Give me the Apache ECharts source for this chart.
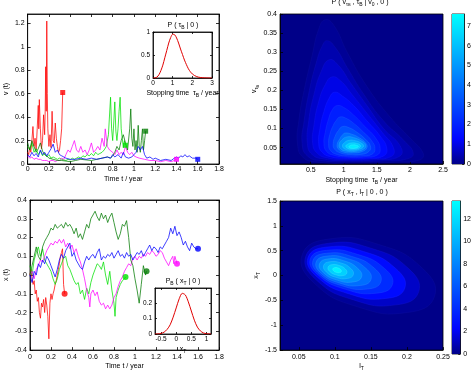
<!DOCTYPE html>
<html><head><meta charset="utf-8">
<script src="https://cdn.jsdelivr.net/npm/echarts@6/dist/echarts.min.js"></script>
<style>html,body{margin:0;padding:0;background:#fff}#c{width:474px;height:372px}</style>
</head><body><div id="c"></div>
<script>
// ---------- v(t) paths (top-left) ----------
const vRed = [[0,0.1],[0.01,0.08],[0.02,0.14],[0.03,0.1],[0.04,0.2],[0.05,0.32],[0.06,0.15],[0.07,0.22],[0.08,0.12],[0.09,0.3],[0.1,0.5],[0.105,0.3],[0.11,0.55],[0.12,0.3],[0.13,0.13],[0.14,0.2],[0.15,0.42],[0.16,0.25],[0.165,0.45],[0.17,0.83],[0.175,0.45],[0.18,1.22],[0.185,0.6],[0.19,0.3],[0.2,0.15],[0.21,0.25],[0.22,0.14],[0.23,0.45],[0.24,0.2],[0.25,0.18],[0.26,0.35],[0.27,0.22],[0.28,0.15],[0.29,0.1],[0.3,0.12],[0.31,0.2],[0.32,0.3],[0.33,0.61]];
const vGreen = [[0,0.15],[0.02,0.12],[0.04,0.18],[0.06,0.1],[0.08,0.13],[0.1,0.08],[0.12,0.11],[0.14,0.07],[0.16,0.09],[0.18,0.06],[0.2,0.08],[0.22,0.05],[0.24,0.06],[0.26,0.05],[0.28,0.04],[0.3,0.05],[0.32,0.04],[0.34,0.035],[0.36,0.03],[0.38,0.04],[0.4,0.035],[0.42,0.05],[0.44,0.04],[0.46,0.05],[0.48,0.06],[0.5,0.05],[0.52,0.07],[0.54,0.06],[0.56,0.08],[0.58,0.07],[0.6,0.09],[0.62,0.07],[0.64,0.1],[0.66,0.08],[0.68,0.09],[0.7,0.1],[0.72,0.12],[0.74,0.15],[0.76,0.25],[0.78,0.57],[0.79,0.3],[0.8,0.2],[0.81,0.35],[0.82,0.53],[0.83,0.28],[0.84,0.2],[0.85,0.3],[0.86,0.45],[0.87,0.57],[0.88,0.3],[0.89,0.22],[0.9,0.14],[0.91,0.2],[0.92,0.16]];
const vMagenta = [[0,0.07],[0.02,0.05],[0.04,0.06],[0.06,0.04],[0.08,0.05],[0.1,0.04],[0.12,0.04],[0.14,0.03],[0.16,0.03],[0.18,0.03],[0.2,0.02],[0.22,0.03],[0.24,0.03],[0.26,0.02],[0.28,0.03],[0.3,0.03],[0.32,0.05],[0.34,0.04],[0.36,0.08],[0.38,0.12],[0.4,0.1],[0.42,0.15],[0.44,0.2],[0.46,0.12],[0.48,0.1],[0.5,0.15],[0.52,0.1],[0.54,0.12],[0.56,0.08],[0.58,0.12],[0.6,0.18],[0.62,0.1],[0.64,0.12],[0.66,0.15],[0.68,0.12],[0.7,0.22],[0.72,0.15],[0.73,0.3],[0.75,0.15],[0.77,0.12],[0.8,0.1],[0.82,0.08],[0.84,0.12],[0.86,0.08],[0.88,0.1],[0.9,0.08],[0.92,0.15],[0.94,0.1],[0.96,0.08],[0.98,0.1],[1.0,0.07],[1.02,0.06],[1.05,0.05],[1.1,0.04],[1.15,0.03],[1.2,0.03],[1.25,0.02],[1.3,0.03],[1.35,0.02],[1.38,0.03],[1.4,0.04]];
const vDarkGreen = [[0,0.18],[0.02,0.12],[0.04,0.2],[0.06,0.15],[0.08,0.1],[0.1,0.13],[0.12,0.18],[0.14,0.11],[0.16,0.08],[0.18,0.07],[0.2,0.05],[0.24,0.04],[0.28,0.03],[0.32,0.03],[0.36,0.025],[0.4,0.02],[0.45,0.03],[0.5,0.04],[0.55,0.035],[0.6,0.03],[0.65,0.04],[0.7,0.05],[0.75,0.06],[0.78,0.05],[0.8,0.07],[0.82,0.1],[0.84,0.15],[0.86,0.12],[0.88,0.2],[0.9,0.25],[0.92,0.18],[0.94,0.12],[0.96,0.3],[0.97,0.47],[0.98,0.22],[0.99,0.15],[1.0,0.3],[1.01,0.12],[1.02,0.2],[1.03,0.1],[1.04,0.33],[1.05,0.15],[1.06,0.1],[1.07,0.2],[1.08,0.3],[1.09,0.12],[1.1,0.2],[1.11,0.28]];
const vBlue = [[0,0.08],[0.02,0.06],[0.04,0.1],[0.06,0.07],[0.08,0.09],[0.1,0.06],[0.12,0.12],[0.14,0.08],[0.16,0.1],[0.18,0.07],[0.2,0.1],[0.22,0.13],[0.24,0.17],[0.26,0.1],[0.28,0.12],[0.3,0.08],[0.32,0.07],[0.34,0.06],[0.36,0.05],[0.4,0.04],[0.45,0.04],[0.5,0.05],[0.55,0.04],[0.6,0.05],[0.65,0.04],[0.7,0.05],[0.75,0.06],[0.78,0.05],[0.8,0.08],[0.82,0.06],[0.85,0.08],[0.88,0.05],[0.9,0.1],[0.92,0.06],[0.95,0.05],[0.98,0.06],[1.0,0.08],[1.02,0.1],[1.04,0.15],[1.06,0.12],[1.08,0.15],[1.1,0.08],[1.12,0.05],[1.15,0.06],[1.18,0.04],[1.2,0.05],[1.25,0.03],[1.3,0.04],[1.35,0.03],[1.38,0.05],[1.4,0.06],[1.42,0.05],[1.44,0.07],[1.46,0.06],[1.48,0.08],[1.5,0.06],[1.52,0.07],[1.55,0.05],[1.58,0.05],[1.6,0.04]];

// ---------- x(t) paths (bottom-left) ----------
const xRed = [[0,0],[0.01,0.03],[0.02,-0.02],[0.03,-0.05],[0.04,-0.03],[0.05,-0.1],[0.06,-0.08],[0.07,-0.14],[0.08,-0.12],[0.09,-0.2],[0.1,-0.23],[0.11,-0.15],[0.12,-0.17],[0.13,-0.13],[0.14,-0.2],[0.15,-0.12],[0.16,-0.16],[0.17,-0.22],[0.18,-0.34],[0.19,-0.15],[0.2,-0.1],[0.21,-0.13],[0.22,-0.1],[0.23,-0.08],[0.24,-0.05],[0.25,-0.03],[0.26,0],[0.27,0.03],[0.28,0.06],[0.29,0.1],[0.3,0.12],[0.31,0.14],[0.32,-0.05],[0.33,-0.1]];
const xGreen = [[0,0.05],[0.02,0],[0.04,0.08],[0.06,0.12],[0.08,0.15],[0.1,0.1],[0.12,0.14],[0.14,0.08],[0.16,0.06],[0.18,0.04],[0.2,0.02],[0.22,-0.02],[0.24,-0.05],[0.26,-0.02],[0.28,0.03],[0.3,0.06],[0.32,0.09],[0.34,0.1],[0.36,0.05],[0.38,0.03],[0.4,0],[0.42,-0.03],[0.44,-0.05],[0.46,-0.04],[0.48,-0.1],[0.5,-0.08],[0.52,-0.13],[0.54,-0.07],[0.56,-0.1],[0.58,-0.04],[0.6,0],[0.62,0.03],[0.64,0.06],[0.66,0.05],[0.68,0.03],[0.7,0.07],[0.72,0],[0.74,-0.05],[0.76,0.02],[0.78,-0.08],[0.8,-0.15],[0.81,-0.22],[0.82,-0.12],[0.84,-0.08],[0.86,-0.05],[0.88,-0.03],[0.9,-0.02],[0.91,-0.01]];
const xMagenta = [[0,0],[0.02,0.02],[0.04,-0.02],[0.06,0.03],[0.08,0.05],[0.1,0.08],[0.12,0.07],[0.14,0.1],[0.16,0.13],[0.18,0.15],[0.2,0.17],[0.22,0.16],[0.24,0.18],[0.26,0.17],[0.28,0.19],[0.3,0.17],[0.32,0.19],[0.34,0.15],[0.36,0.17],[0.38,0.14],[0.4,0.16],[0.42,0.12],[0.44,0.14],[0.46,0.1],[0.48,0.07],[0.5,0.03],[0.52,-0.02],[0.54,-0.08],[0.56,-0.12],[0.57,-0.17],[0.58,-0.1],[0.6,-0.08],[0.62,-0.11],[0.64,-0.09],[0.66,-0.14],[0.68,-0.16],[0.7,-0.15],[0.72,-0.18],[0.74,-0.16],[0.76,-0.18],[0.78,-0.16],[0.8,-0.12],[0.82,-0.1],[0.84,-0.06],[0.86,-0.03],[0.88,-0.01],[0.9,0.02],[0.92,0.04],[0.94,0.06],[0.96,0.05],[0.98,0.09],[1.0,0.1],[1.02,0.08],[1.04,0.1],[1.06,0.09],[1.08,0.11],[1.1,0.1],[1.12,0.12],[1.14,0.11],[1.16,0.13],[1.18,0.12],[1.2,0.1],[1.22,0.11],[1.24,0.13],[1.26,0.12],[1.28,0.09],[1.3,0.07],[1.32,0.05],[1.34,0.08],[1.36,0.1],[1.37,0.06],[1.38,0.1],[1.4,0.06]];
const xDarkGreen = [[0,0],[0.02,0.05],[0.04,0.1],[0.06,0.15],[0.08,0.1],[0.1,0.08],[0.12,0.15],[0.14,0.18],[0.16,0.2],[0.18,0.22],[0.2,0.25],[0.22,0.24],[0.24,0.27],[0.26,0.25],[0.28,0.26],[0.3,0.27],[0.32,0.25],[0.34,0.28],[0.36,0.26],[0.38,0.27],[0.4,0.25],[0.42,0.22],[0.44,0.25],[0.46,0.2],[0.48,0.22],[0.5,0.19],[0.52,0.23],[0.54,0.27],[0.56,0.25],[0.58,0.3],[0.6,0.32],[0.62,0.34],[0.64,0.31],[0.66,0.29],[0.68,0.33],[0.7,0.3],[0.72,0.32],[0.74,0.28],[0.76,0.31],[0.78,0.33],[0.8,0.28],[0.82,0.23],[0.84,0.19],[0.86,0.22],[0.88,0.27],[0.9,0.26],[0.92,0.29],[0.94,0.2],[0.96,0.08],[0.98,0.05],[1.0,-0.02],[1.02,-0.08],[1.04,-0.15],[1.06,-0.05],[1.08,0.05],[1.1,0],[1.11,0.02]];
const xBlue = [[0,0],[0.02,-0.04],[0.04,0.02],[0.06,0],[0.08,0.06],[0.1,0.04],[0.12,0.08],[0.14,0.06],[0.16,0.1],[0.18,0.08],[0.2,0.05],[0.22,0.02],[0.24,-0.01],[0.26,0.03],[0.28,0.08],[0.3,0.11],[0.32,0.09],[0.34,0.13],[0.36,0.15],[0.38,0.17],[0.4,0.1],[0.42,0.12],[0.44,0.08],[0.46,0.06],[0.48,0.04],[0.5,0.03],[0.52,0.07],[0.54,0.1],[0.56,0.08],[0.58,0.1],[0.6,0.11],[0.62,0.09],[0.64,0.12],[0.66,0.14],[0.68,0.08],[0.7,0.1],[0.72,0.09],[0.74,0.11],[0.76,0.1],[0.78,0.12],[0.8,0.09],[0.82,0.11],[0.84,0.13],[0.86,0.1],[0.88,0.11],[0.9,0.09],[0.92,0.12],[0.94,0.1],[0.96,0.11],[0.98,0.08],[1.0,0.1],[1.02,0.12],[1.04,0.11],[1.06,0.13],[1.08,0.1],[1.1,0.12],[1.12,0.14],[1.14,0.16],[1.16,0.13],[1.18,0.15],[1.2,0.14],[1.22,0.12],[1.24,0.15],[1.26,0.14],[1.28,0.16],[1.3,0.18],[1.32,0.2],[1.34,0.25],[1.36,0.22],[1.38,0.26],[1.4,0.21],[1.42,0.23],[1.44,0.2],[1.46,0.16],[1.48,0.18],[1.5,0.15],[1.52,0.13],[1.54,0.17],[1.56,0.15],[1.58,0.14],[1.6,0.14]];

// ---------- inset densities ----------
const tauDensity = [[0,0],[0.1,0.002],[0.2,0.02],[0.3,0.07],[0.4,0.16],[0.5,0.28],[0.6,0.44],[0.7,0.6],[0.8,0.76],[0.9,0.88],[1.0,0.95],[1.1,0.94],[1.2,0.87],[1.3,0.76],[1.4,0.63],[1.5,0.51],[1.6,0.39],[1.7,0.29],[1.8,0.2],[1.9,0.135],[2.0,0.088],[2.1,0.056],[2.2,0.035],[2.3,0.02],[2.4,0.012],[2.5,0.007],[2.6,0.004],[2.8,0.001],[3.0,0]];
const xTDensity = [[-0.7,0],[-0.6,0.001],[-0.5,0.004],[-0.4,0.012],[-0.3,0.03],[-0.2,0.06],[-0.1,0.11],[0,0.17],[0.1,0.23],[0.2,0.265],[0.3,0.255],[0.4,0.21],[0.5,0.15],[0.6,0.09],[0.7,0.045],[0.8,0.02],[0.9,0.007],[1.0,0.002],[1.15,0]];

// ---------- contour levels / outlines ----------
const tvLevels = [0.15,0.4,0.7,1.0,1.4,1.9,2.5,3.2,4.0,4.8,5.6,6.4,7.1];
const tvContours = [
 [[0.72,0.385],[0.85,0.37],[1.05,0.3],[1.35,0.21],[1.7,0.13],[2.0,0.075],[2.2,0.035],[2.15,0.018],[1.8,0.012],[1.2,0.01],[0.6,0.012],[0.38,0.025],[0.3,0.06],[0.32,0.12],[0.4,0.2],[0.52,0.29],[0.62,0.36]],
 [[0.75,0.33],[0.88,0.31],[1.05,0.26],[1.3,0.19],[1.6,0.12],[1.9,0.07],[2.05,0.035],[1.95,0.02],[1.6,0.015],[1.1,0.013],[0.65,0.016],[0.45,0.028],[0.37,0.06],[0.4,0.12],[0.48,0.2],[0.58,0.27],[0.67,0.315]],
 [[0.78,0.28],[0.92,0.265],[1.1,0.22],[1.35,0.16],[1.6,0.1],[1.85,0.055],[1.85,0.028],[1.5,0.018],[1.0,0.016],[0.7,0.02],[0.52,0.032],[0.45,0.06],[0.47,0.12],[0.55,0.19],[0.66,0.25]],
 [[0.82,0.235],[0.95,0.225],[1.12,0.19],[1.35,0.14],[1.58,0.09],[1.75,0.05],[1.72,0.027],[1.4,0.02],[1.0,0.019],[0.75,0.023],[0.6,0.035],[0.53,0.06],[0.55,0.11],[0.62,0.17],[0.72,0.215]],
 [[0.86,0.195],[0.98,0.185],[1.15,0.16],[1.35,0.12],[1.55,0.08],[1.65,0.048],[1.6,0.028],[1.35,0.022],[1.0,0.022],[0.8,0.026],[0.67,0.038],[0.62,0.06],[0.64,0.1],[0.7,0.145],[0.78,0.18]],
 [[0.9,0.16],[1.0,0.155],[1.15,0.135],[1.32,0.105],[1.48,0.075],[1.55,0.047],[1.5,0.03],[1.3,0.025],[1.05,0.025],[0.85,0.03],[0.74,0.04],[0.7,0.06],[0.72,0.09],[0.77,0.125],[0.83,0.15]],
 [[0.94,0.13],[1.03,0.127],[1.16,0.112],[1.3,0.09],[1.42,0.068],[1.47,0.047],[1.42,0.032],[1.25,0.028],[1.05,0.028],[0.9,0.032],[0.8,0.042],[0.77,0.06],[0.79,0.085],[0.84,0.108],[0.89,0.122]],
 [[0.98,0.105],[1.08,0.102],[1.2,0.09],[1.32,0.073],[1.4,0.055],[1.38,0.04],[1.25,0.032],[1.08,0.032],[0.95,0.036],[0.86,0.046],[0.84,0.06],[0.87,0.08],[0.92,0.095]],
 [[1.02,0.088],[1.12,0.085],[1.24,0.075],[1.33,0.062],[1.35,0.05],[1.28,0.04],[1.14,0.036],[1.0,0.038],[0.92,0.046],[0.9,0.058],[0.94,0.073],[0.98,0.083]],
 [[1.05,0.078],[1.15,0.076],[1.26,0.068],[1.33,0.057],[1.3,0.046],[1.17,0.04],[1.03,0.041],[0.95,0.047],[0.93,0.058],[0.97,0.07]],
 [[1.08,0.069],[1.17,0.068],[1.26,0.062],[1.3,0.054],[1.24,0.046],[1.12,0.043],[1.02,0.046],[0.98,0.054],[1.01,0.063]],
 [[1.11,0.062],[1.19,0.061],[1.25,0.056],[1.23,0.049],[1.14,0.046],[1.06,0.048],[1.03,0.054],[1.06,0.059]],
 [[1.13,0.057],[1.19,0.056],[1.22,0.053],[1.18,0.049],[1.12,0.048],[1.08,0.051],[1.09,0.055]]
];
const xlLevels = [0.3,1.2,2.5,4,5.5,7,8.5,10,11.5,13];
const xlContours = [
 [[0.2382,-0.421],[0.2011,-0.742],[0.1319,-0.630],[0.0713,-0.151],[0.0547,0.414],[0.0919,0.735],[0.1610,0.624],[0.2216,0.144]],
 [[0.2163,-0.327],[0.1848,-0.590],[0.1260,-0.490],[0.0741,-0.086],[0.0597,0.386],[0.0912,0.649],[0.1500,0.550],[0.2019,0.145]],
 [[0.1971,-0.250],[0.1705,-0.461],[0.1201,-0.370],[0.0756,-0.030],[0.0629,0.362],[0.0895,0.574],[0.1399,0.483],[0.1844,0.142]],
 [[0.1798,-0.183],[0.1574,-0.355],[0.1148,-0.276],[0.0770,0.010],[0.0661,0.334],[0.0885,0.507],[0.1311,0.427],[0.1689,0.142]],
 [[0.1638,-0.125],[0.1452,-0.270],[0.1100,-0.206],[0.0788,0.032],[0.0698,0.303],[0.0884,0.448],[0.1236,0.384],[0.1549,0.146]],
 [[0.1501,-0.078],[0.1350,-0.200],[0.1064,-0.149],[0.0812,0.045],[0.0741,0.269],[0.0892,0.391],[0.1178,0.340],[0.1430,0.146]],
 [[0.1370,-0.030],[0.1252,-0.129],[0.1034,-0.092],[0.0841,0.059],[0.0788,0.235],[0.0905,0.334],[0.1124,0.297],[0.1316,0.146]],
 [[0.1256,0.015],[0.1172,-0.059],[0.1017,-0.036],[0.0882,0.073],[0.0845,0.202],[0.0929,0.277],[0.1084,0.253],[0.1220,0.144]],
 [[0.1166,0.049],[0.1113,0.000],[0.1015,0.015],[0.0929,0.084],[0.0907,0.168],[0.0960,0.218],[0.1058,0.203],[0.1144,0.133]],
 [[0.1090,0.082],[0.1066,0.059],[0.1021,0.065],[0.0983,0.096],[0.0973,0.135],[0.0998,0.159],[0.1042,0.153],[0.1080,0.121]]
];
const tvRange = [0, 7.6];
const xlRange = [0, 13.6];

// ---------- ticks ----------
const tTicks = [0,0.2,0.4,0.6,0.8,1,1.2,1.4,1.6,1.8];
const vTicks = [0,0.2,0.4,0.6,0.8,1,1.2];
const xTicks = [-0.4,-0.3,-0.2,-0.1,0,0.1,0.2,0.3,0.4];
const tauInsetXTicks = [0,1,2,3];
const tauInsetYTicks = [0,0.5,1];
const xtInsetXTicks = [-0.5,0,0.5,1];
const xtInsetYTicks = [0,0.1,0.2];
const tvXTicks = [0.5,1,1.5,2,2.5];
const tvYTicks = [0.05,0.1,0.15,0.2,0.25,0.3,0.35,0.4];
const xlXTicks = [0.05,0.1,0.15,0.2,0.25];
const xlYTicks = [-1.5,-1,-0.5,0,0.5,1,1.5];
const tvBarTicks = [0,1,2,3,4,5,6,7];
const xlBarTicks = [0,2,4,6,8,10,12];

// ---------- styling ----------
const FONT = '"Liberation Sans", Arial, sans-serif';
const PALETTE = ['#000088','#0005FF','#0037FF','#0069FF','#009BFF','#00CDFF','#00FFFF'];
const RICH = {
  s: {fontSize: 5, lineHeight: 5, verticalAlign: 'bottom', fontFamily: FONT, color: '#000'},
  ss: {fontSize: 4, lineHeight: 3, verticalAlign: 'bottom', fontFamily: FONT, color: '#000'}
};
function nameStyle(fs) { return {fontSize: fs || 7, fontFamily: FONT, color: '#000', lineHeight: 10, rich: RICH}; }
function xa(g, min, max, ticks, o) {
  o = o || {};
  return {type: 'value', gridIndex: g, min: min, max: max, position: o.pos || 'bottom',
    axisLine: {show: true, onZero: false, lineStyle: {color: '#000', width: 0.8}},
    axisTick: {show: true, inside: true, length: o.tl || 3, customValues: ticks, lineStyle: {color: '#000', width: 0.8}},
    axisLabel: {show: !o.noLabel, customValues: ticks, fontSize: o.fs || 7, fontFamily: FONT, color: '#000', margin: o.lm || 3},
    splitLine: {show: false},
    name: o.name || '', nameLocation: 'middle', nameGap: o.ng || 10, nameTextStyle: nameStyle(o.nfs)};
}
function ya(g, min, max, ticks, o) {
  o = o || {};
  return {type: 'value', gridIndex: g, min: min, max: max, position: o.pos || 'left',
    axisLine: {show: true, onZero: false, lineStyle: {color: '#000', width: 0.8}},
    axisTick: {show: true, inside: true, length: o.tl || 3, customValues: ticks, lineStyle: {color: '#000', width: 0.8}},
    axisLabel: {show: !o.noLabel, customValues: ticks, fontSize: o.fs || 7, fontFamily: FONT, color: '#000', margin: o.lm || 3},
    splitLine: {show: false},
    name: o.name || '', nameLocation: 'middle', nameGap: o.ng || 12, nameRotate: 90, nameTextStyle: nameStyle(o.nfs)};
}
function pathLine(data, color, xi, yi) {
  return {type: 'line', data: data, xAxisIndex: xi, yAxisIndex: yi, showSymbol: false, symbol: 'none',
    lineStyle: {color: color, width: 0.75}, silent: true};
}
function endMark(data, color, xi, yi, sym) {
  return {type: 'scatter', data: [data[data.length - 1]], xAxisIndex: xi, yAxisIndex: yi,
    symbol: sym, symbolSize: sym === 'rect' ? 5 : 6, itemStyle: {color: color}, silent: true, z: 5};
}
function contourSeries(levels, polys, range, xi, yi) {
  return {type: 'custom', coordinateSystem: 'cartesian2d', xAxisIndex: xi, yAxisIndex: yi, silent: true,
    data: levels.map(function (l) { return [l]; }),
    renderItem: function (params, api) {
      const lvl = levels[params.dataIndex];
      const t = (lvl - range[0]) / (range[1] - range[0]);
      const pts = polys[params.dataIndex].map(function (p) { return api.coord(p); });
      const fill = echarts.color.lerp(t, PALETTE);
      return {type: 'polygon', shape: {points: pts, smooth: 0.5},
        style: {fill: fill, stroke: echarts.color.lift(fill, 0.04 + 0.2 * t), lineWidth: 0.5}};
    }};
}
function colorBar(range, xi, yi) {
  return {type: 'custom', coordinateSystem: 'cartesian2d', xAxisIndex: xi, yAxisIndex: yi, silent: true,
    data: [[range[0], range[1]]],
    renderItem: function (params, api) {
      const lo = api.coord([0, api.value(0)]);
      const hi = api.coord([1, api.value(1)]);
      return {type: 'rect', shape: {x: lo[0], y: hi[1], width: hi[0] - lo[0], height: lo[1] - hi[1]},
        style: {fill: new echarts.graphic.LinearGradient(0, 1, 0, 0,
          PALETTE.map(function (c, i) { return {offset: i / (PALETTE.length - 1), color: c}; }))}};
    }};
}

const gridBase = {show: true, borderColor: '#000', borderWidth: 0.8, containLabel: false};
const option = {
  animation: false,
  textStyle: {fontFamily: FONT},
  grid: [
    Object.assign({left: 23, top: 14, width: 196, height: 150, backgroundColor: '#fff'}, gridBase),
    Object.assign({left: 153, top: 32, width: 59, height: 46, backgroundColor: '#fff'}, gridBase),
    Object.assign({left: 23, top: 200, width: 196, height: 154, backgroundColor: '#fff'}, gridBase),
    Object.assign({left: 155, top: 288, width: 56, height: 46, backgroundColor: '#fff'}, gridBase),
    Object.assign({left: 280, top: 14, width: 163, height: 150, backgroundColor: '#000088'}, gridBase),
    Object.assign({left: 452, top: 14, width: 14, height: 150, backgroundColor: '#000088'}, gridBase),
    Object.assign({left: 280, top: 201, width: 163, height: 153, backgroundColor: '#000088'}, gridBase),
    Object.assign({left: 452, top: 201, width: 14, height: 153, backgroundColor: '#000088'}, gridBase)
  ],
  xAxis: [
    xa(0, 0, 1.8, tTicks, {name: 'Time t / year', ng: 8, lm: 2}),
    xa(0, 0, 1.8, tTicks, {pos: 'top', noLabel: true}),
    xa(1, 0, 3, tauInsetXTicks, {name: 'Stopping time  τ{s|B} / year', ng: 8, lm: 2, tl: 2, fs: 6.5}),
    xa(1, 0, 3, tauInsetXTicks, {pos: 'top', noLabel: true, tl: 2}),
    xa(2, 0, 1.8, tTicks, {name: 'Time t / year', ng: 9, lm: 3}),
    xa(2, 0, 1.8, tTicks, {pos: 'top', noLabel: true}),
    xa(3, -0.7, 1.15, xtInsetXTicks, {name: 'x{s|T}', ng: 10, lm: 2, tl: 2, fs: 6.5}),
    xa(3, -0.7, 1.15, xtInsetXTicks, {pos: 'top', noLabel: true, tl: 2}),
    xa(4, 0.035, 2.5, tvXTicks, {name: 'Stopping time  τ{s|B} / year', ng: 9, lm: 3}),
    {type: 'value', gridIndex: 5, min: 0, max: 1, show: false},
    xa(6, 0.024, 0.25, xlXTicks, {name: 'l{s|T}', ng: 10, lm: 3}),
    {type: 'value', gridIndex: 7, min: 0, max: 1, show: false}
  ],
  yAxis: [
    ya(0, 0, 1.28, vTicks, {name: 'v (t)', ng: 14}),
    ya(0, 0, 1.28, vTicks, {pos: 'right', noLabel: true}),
    ya(1, 0, 1, tauInsetYTicks, {tl: 2, fs: 6.5, lm: 3}),
    ya(1, 0, 1, tauInsetYTicks, {pos: 'right', noLabel: true, tl: 2}),
    ya(2, -0.4, 0.4, xTicks, {name: 'x (t)', ng: 16}),
    ya(2, -0.4, 0.4, xTicks, {pos: 'right', noLabel: true}),
    ya(3, 0, 0.3, xtInsetYTicks, {tl: 2, fs: 6.5, lm: 3}),
    ya(3, 0, 0.3, xtInsetYTicks, {pos: 'right', noLabel: true, tl: 2}),
    ya(4, 0.007, 0.4, tvYTicks, {name: 'v{s|τ}{ss|B}', ng: 19}),
    ya(5, tvRange[0], tvRange[1], tvBarTicks, {pos: 'right', tl: 2, lm: 3}),
    ya(6, -1.5, 1.5, xlYTicks, {name: 'x{s|T}', ng: 19}),
    ya(7, xlRange[0], xlRange[1], xlBarTicks, {pos: 'right', tl: 2, lm: 3})
  ],
  series: [
    pathLine(vRed, '#FF0000', 0, 0),
    pathLine(vGreen, '#00E000', 0, 0),
    pathLine(vMagenta, '#FF00FF', 0, 0),
    pathLine(vDarkGreen, '#007A00', 0, 0),
    pathLine(vBlue, '#0000FF', 0, 0),
    endMark(vRed, '#FF0000', 0, 0, 'rect'),
    endMark(vGreen, '#00E000', 0, 0, 'rect'),
    endMark(vMagenta, '#FF00FF', 0, 0, 'rect'),
    endMark(vDarkGreen, '#007A00', 0, 0, 'rect'),
    endMark(vBlue, '#0000FF', 0, 0, 'rect'),
    {type: 'line', data: tauDensity, xAxisIndex: 2, yAxisIndex: 2, showSymbol: false, smooth: 0.3,
      lineStyle: {color: '#E00000', width: 1}, silent: true},
    pathLine(xRed, '#FF0000', 4, 4),
    pathLine(xGreen, '#00E000', 4, 4),
    pathLine(xMagenta, '#FF00FF', 4, 4),
    pathLine(xDarkGreen, '#007A00', 4, 4),
    pathLine(xBlue, '#0000FF', 4, 4),
    endMark(xRed, '#FF0000', 4, 4, 'circle'),
    endMark(xGreen, '#00E000', 4, 4, 'circle'),
    endMark(xMagenta, '#FF00FF', 4, 4, 'circle'),
    endMark(xDarkGreen, '#007A00', 4, 4, 'circle'),
    endMark(xBlue, '#0000FF', 4, 4, 'circle'),
    {type: 'line', data: xTDensity, xAxisIndex: 6, yAxisIndex: 6, showSymbol: false, smooth: 0.3,
      lineStyle: {color: '#E00000', width: 1}, silent: true},
    contourSeries(tvLevels, tvContours, tvRange, 8, 8),
    colorBar(tvRange, 9, 9),
    contourSeries(xlLevels, xlContours, xlRange, 10, 10),
    colorBar(xlRange, 11, 11)
  ],
  graphic: [
    {type: 'text', x: 360, y: 2, style: {text: 'P ( v{s|τ}{ss|B} , τ{s|B} | v{s|0} , 0 )', rich: RICH, fontSize: 7, fontFamily: FONT, fill: '#000', align: 'center', verticalAlign: 'middle', lineHeight: 10}},
    {type: 'text', x: 362, y: 192, style: {text: 'P ( x{s|T} , l{s|T} | 0 , 0 )', rich: RICH, fontSize: 7, fontFamily: FONT, fill: '#000', align: 'center', verticalAlign: 'middle', lineHeight: 10}},
    {type: 'text', x: 183, y: 25, style: {text: 'P ( τ{s|B} | 0 )', rich: RICH, fontSize: 7, fontFamily: FONT, fill: '#000', align: 'center', verticalAlign: 'middle', lineHeight: 10}},
    {type: 'text', x: 183, y: 281, style: {text: 'P{s|B} ( x{s|T} | 0 )', rich: RICH, fontSize: 7, fontFamily: FONT, fill: '#000', align: 'center', verticalAlign: 'middle', lineHeight: 10}}
  ]
};
const chart = echarts.init(document.getElementById('c'), null, {renderer: 'canvas'});
chart.setOption(option);
</script></body></html>
